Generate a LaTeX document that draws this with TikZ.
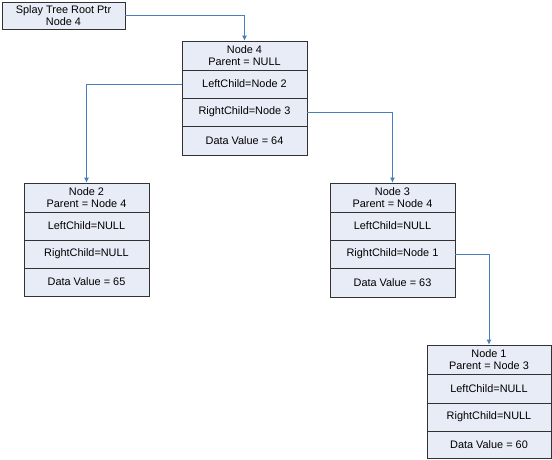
\documentclass[tikz,border=0pt]{standalone}
\usepackage{fontspec}
\setmainfont{Liberation Sans}
\usetikzlibrary{arrows.meta}
\definecolor{boxfill}{RGB}{232,236,246}
\definecolor{boxline}{RGB}{50,50,50}
\definecolor{connblue}{RGB}{74,126,187}
\begin{document}
\begin{tikzpicture}[x=1pt,y=-1pt,
  rowbox/.style={draw=boxline,line width=0.8pt,fill=boxfill,rectangle,inner sep=0pt,
    minimum width=125pt,minimum height=28pt,align=center,
    font=\fontsize{10.9}{11.5}\selectfont},
  conn/.style={draw=connblue,line width=0.8pt,-{Latex[length=5pt,width=5pt]}}]
\useasboundingbox (0,0) rectangle (552,459);
% root pointer
\node[rowbox,minimum width=123pt,minimum height=27pt] (root) at (63.5,15.5) {Splay Tree Root Ptr\\Node 4};
% Node 4
\node[rowbox,minimum height=29pt] (n4h) at (244.5,55.5) {Node 4\\Parent = NULL};
\node[rowbox] (n4l) at (244.5,84) {LeftChild=Node 2};
\node[rowbox] (n4r) at (244.5,112) {RightChild=Node 3};
\node[rowbox,minimum height=29pt] (n4d) at (244.5,140.5) {Data Value = 64};
% Node 2
\node[rowbox,minimum height=29pt] (n2h) at (86.5,197.5) {Node 2\\Parent = Node 4};
\node[rowbox] (n2l) at (86.5,226) {LeftChild=NULL};
\node[rowbox] (n2r) at (86.5,254) {RightChild=NULL};
\node[rowbox] (n2d) at (86.5,282) {Data Value = 65};
% Node 3
\node[rowbox,minimum height=29pt] (n3h) at (392.5,197.5) {Node 3\\Parent = Node 4};
\node[rowbox] (n3l) at (392.5,226) {LeftChild=NULL};
\node[rowbox] (n3r) at (392.5,254) {RightChild=Node 1};
\node[rowbox,minimum height=29pt] (n3d) at (392.5,282.5) {Data Value = 63};
% Node 1
\node[rowbox,minimum width=124pt,minimum height=29pt] (n1h) at (489,359.5) {Node 1\\Parent = Node 3};
\node[rowbox,minimum width=124pt,minimum height=29pt] (n1l) at (489,388.5) {LeftChild=NULL};
\node[rowbox,minimum width=124pt] (n1r) at (489,417) {RightChild=NULL};
\node[rowbox,minimum width=124pt,minimum height=27pt] (n1d) at (489,444.5) {Data Value = 60};
% connectors
\draw[conn] (root.east) -| (n4h.north);
\draw[conn] (n4l.west) -| (n2h.north);
\draw[conn] (n4r.east) -| (n3h.north);
\draw[conn] (n3r.east) -| (n1h.north);
\end{tikzpicture}
\end{document}
